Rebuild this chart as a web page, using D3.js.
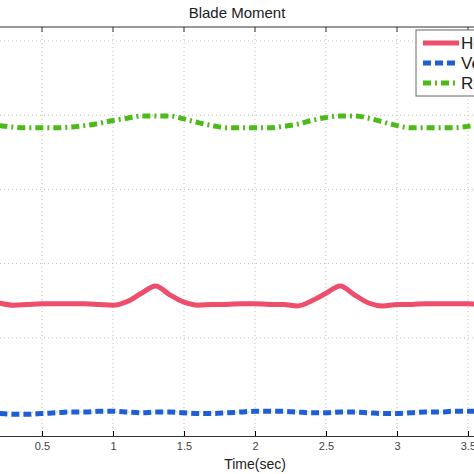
<!DOCTYPE html><html><head><meta charset="utf-8">
<script src="https://cdn.jsdelivr.net/npm/d3@7"></script>
<style>body{margin:0;background:#fff}svg{display:block}</style></head><body>
<svg id="c" width="474" height="474"></svg>
<script>
const time=[0.2,0.3,0.4,0.5,0.6,0.7,0.8,0.9,1.0,1.1,1.2,1.3,1.4,1.5,1.6,1.7,1.8,1.9,2.0,2.1,2.2,2.3,2.4,2.5,2.6,2.7,2.8,2.9,3.0,3.1,3.2,3.3,3.4,3.5,3.6,3.7];
const horizontal=[1.47,1.44,1.45,1.46,1.46,1.46,1.46,1.45,1.44,1.49,1.60,1.70,1.58,1.48,1.44,1.45,1.45,1.46,1.46,1.45,1.45,1.43,1.50,1.60,1.70,1.58,1.47,1.43,1.45,1.45,1.46,1.46,1.46,1.46,1.45,1.45];
const vertical=[-0.02,-0.03,-0.03,-0.02,-0.01,0.00,0.00,0.01,0.01,0.00,-0.01,0.00,0.00,-0.01,-0.02,-0.02,-0.01,0.00,0.01,0.01,0.01,0.00,-0.01,-0.01,0.00,0.00,-0.01,-0.02,-0.02,-0.01,0.00,0.00,0.01,0.01,0.01,0.01];
const resultant=[3.86,3.84,3.83,3.83,3.83,3.84,3.86,3.89,3.93,3.96,3.99,3.99,3.99,3.95,3.90,3.86,3.83,3.83,3.83,3.83,3.85,3.88,3.93,3.97,3.99,3.99,3.96,3.91,3.86,3.83,3.83,3.83,3.83,3.85,3.88,3.92];
const xTicks=[0.5,1,1.5,2,2.5,3,3.5];
const yTicks=[0,1,2,3,4,5];
const legendLabels=["Horizontal","Vertical","Resultant"];

const svg=d3.select("#c");
const L=-29,T=27,B=436;
const x=d3.scaleLinear().domain([0,4]).range([L,L+142*4]);
const y=d3.scaleLinear().domain([-0.323,5.189]).range([B,T]);
svg.append("g").selectAll("line").data(xTicks).join("line")
 .attr("x1",d=>x(d)).attr("x2",d=>x(d)).attr("y1",T).attr("y2",B)
 .attr("stroke","#bbb").attr("stroke-dasharray","1,3");
svg.append("g").selectAll("line").data(yTicks).join("line")
 .attr("x1",0).attr("x2",474).attr("y1",d=>y(d)).attr("y2",d=>y(d))
 .attr("stroke","#bbb").attr("stroke-dasharray","1,3");
svg.append("line").attr("x1",0).attr("x2",474).attr("y1",T).attr("y2",T).attr("stroke","#333");
svg.append("g").attr("transform",`translate(0,${B})`)
 .call(d3.axisBottom(x).tickValues(xTicks).tickSizeInner(-5).tickSizeOuter(0).tickPadding(6).tickFormat(d3.format("")))
 .call(g=>{g.select(".domain").attr("stroke","#333");g.selectAll("text").attr("font-family","Arial, Liberation Sans").attr("font-size",11).attr("fill","#444");});
svg.append("g").selectAll("line").data(xTicks).join("line")
 .attr("x1",d=>x(d)).attr("x2",d=>x(d)).attr("y1",T).attr("y2",T+5).attr("stroke","#333");
const line=d3.line().x((d,i)=>x(time[i])).y(d=>y(d)).curve(d3.curveMonotoneX);
const styles=[{data:horizontal,c:"#ee4d6c",dash:null},{data:vertical,c:"#1f5fd6",dash:"8,4"},{data:resultant,c:"#4cbb17",dash:"8,4,2,4"}];
styles.forEach(s=>svg.append("path").datum(s.data).attr("d",line).attr("fill","none")
 .attr("stroke",s.c).attr("stroke-width",5).attr("stroke-dasharray",s.dash));
svg.append("text").attr("x",237).attr("y",18).attr("text-anchor","middle")
 .attr("font-family","Arial, Liberation Sans").attr("font-size",15).attr("fill","#222").text("Blade Moment");
svg.append("text").attr("x",255).attr("y",469).attr("text-anchor","middle")
 .attr("font-family","Arial, Liberation Sans").attr("font-size",14).attr("fill","#222").text("Time(sec)");
const lg=svg.append("g").attr("transform","translate(416,30)");
lg.append("rect").attr("width",120).attr("height",66).attr("fill","#fff").attr("stroke","#666");
legendLabels.forEach((t,i)=>{
 const yy=13+i*20;
 lg.append("line").attr("x1",7).attr("x2",43).attr("y1",yy).attr("y2",yy)
  .attr("stroke",styles[i].c).attr("stroke-width",5).attr("stroke-dasharray",styles[i].dash);
 lg.append("text").attr("x",45).attr("y",yy+6).attr("font-family","Arial, Liberation Sans").attr("font-size",17).attr("fill","#222").text(t);
});
</script></body></html>
